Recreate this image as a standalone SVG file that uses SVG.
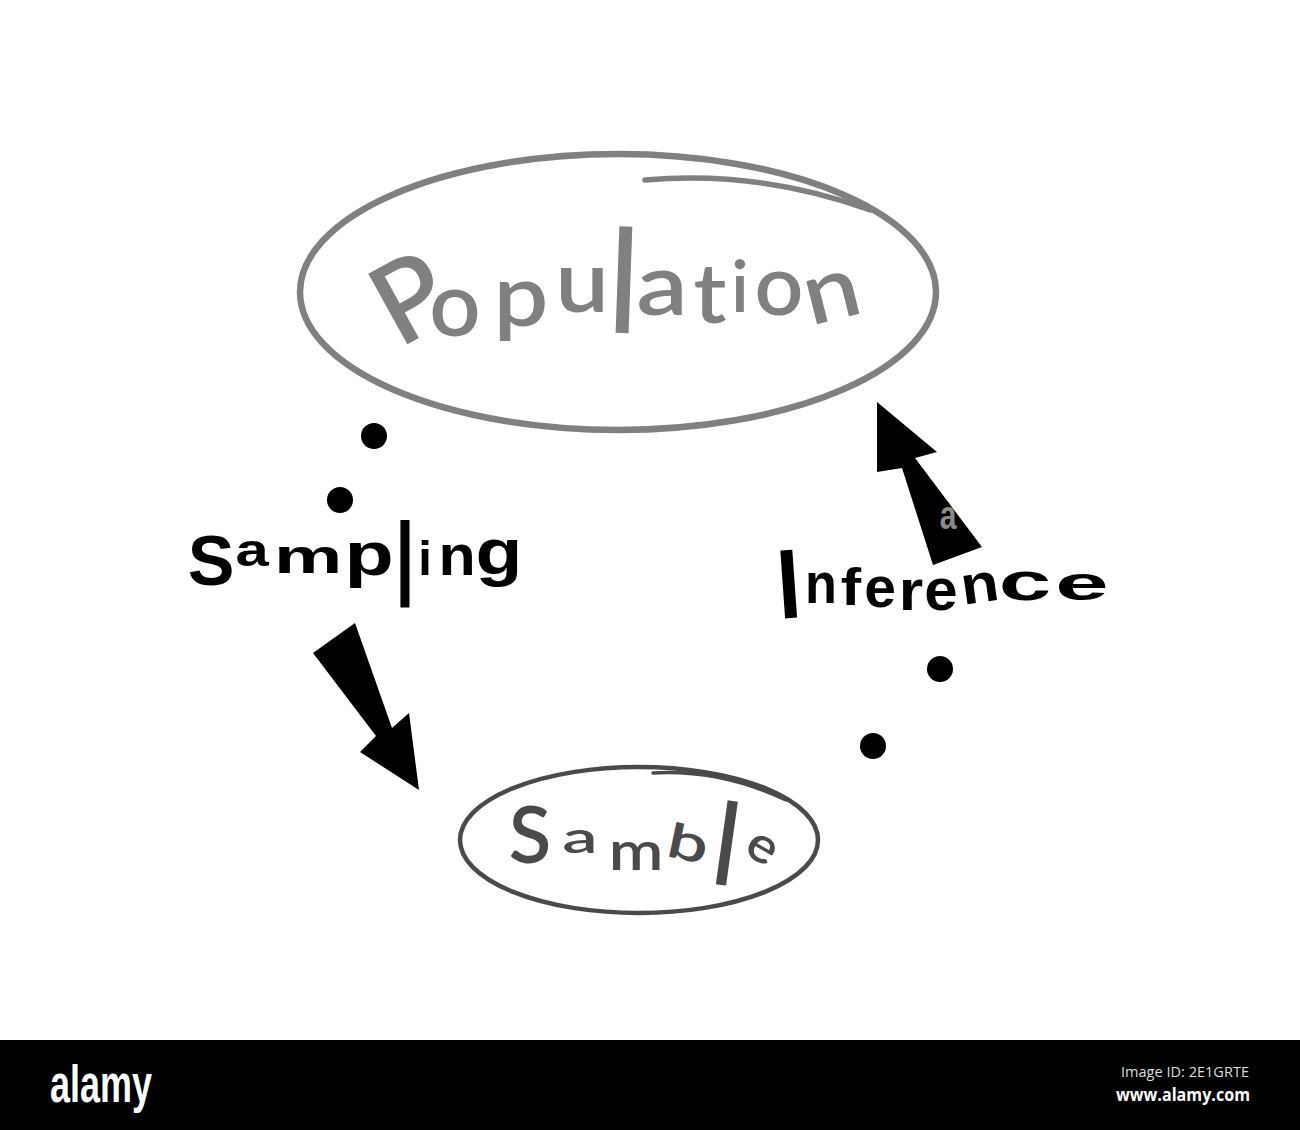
<svg xmlns="http://www.w3.org/2000/svg" width="1300" height="1130" viewBox="0 0 1300 1130">
<style>
.pop{font-family:Lato,"Open Sans",sans-serif;font-weight:600;fill:#808080;text-anchor:middle}
.smp{font-family:Lato,"Open Sans",sans-serif;font-weight:600;fill:#4a4a4a;text-anchor:middle}
.lbl{font-family:"Liberation Sans",Arial,sans-serif;font-weight:bold;fill:#000;text-anchor:middle}
.bar{font-weight:normal}
.dot{fill:#000}
.arrow{fill:#000}
</style>
<rect width="1300" height="1130" fill="#fff"/>

<g id="population">
  <ellipse cx="618" cy="292" rx="318" ry="138" fill="none" stroke="#808080" stroke-width="6.5"/>
  <path d="M645,180 Q760,170 870,210" fill="none" stroke="#808080" stroke-width="5.5" stroke-linecap="round"/>
  <text class="pop" style="text-anchor:start" font-size="112" transform="translate(399,349) rotate(-29)">P</text>
  <text class="pop" font-size="90" transform="translate(455,336)">o</text>
  <text class="pop" font-size="87" transform="translate(521,326) scale(1.12,1)">p</text>
  <text class="pop" font-size="87" transform="translate(582,312) scale(1.1,1)">u</text>
  <text class="pop bar" font-size="145" transform="translate(622,333) rotate(2)">l</text>
  <text class="pop" font-size="87" transform="translate(662,315) scale(1.18,1)">a</text>
  <text class="pop" font-size="82" transform="translate(710,323) scale(1.1,1)">t</text>
  <text class="pop" font-size="72" transform="translate(740,312)">i</text>
  <text class="pop" font-size="84" transform="translate(779,315) scale(1.02,1)">o</text>
  <text class="pop" font-size="87" transform="translate(838,319) rotate(-14) scale(1.15,1)">n</text>
</g>

<g id="sample">
  <ellipse cx="639" cy="840" rx="179" ry="73" fill="none" stroke="#4a4a4a" stroke-width="4.5"/>
  <path d="M653,773 Q720,769 786,800" fill="none" stroke="#4a4a4a" stroke-width="3.5" stroke-linecap="round"/>
  <text class="smp" font-size="78" transform="translate(530,863)">S</text>
  <text class="smp" font-size="44" transform="translate(580,853) scale(1.6,1)">a</text>
  <text class="smp" font-size="54" transform="translate(636,870) scale(1.22,1)">m</text>
  <text class="smp" font-size="52" transform="translate(690,834) rotate(12) scale(1.4,-1)">p</text>
  <text class="smp bar" font-size="115" transform="translate(721,885) rotate(8)">l</text>
  <text class="smp" font-size="50" transform="translate(755,860) rotate(30) scale(1.1,1)">e</text>
</g>

<g id="sampling-label">
  <text class="lbl" font-size="70" transform="translate(211,585)">S</text>
  <text class="lbl" font-size="46" transform="translate(252,566) scale(1.3,1)">a</text>
  <text class="lbl" font-size="48" transform="translate(308,573) scale(1.6,1)">m</text>
  <text class="lbl" font-size="62" transform="translate(369,575) scale(1.3,1)">p</text>
  <text class="lbl" font-size="121" transform="translate(405,608) scale(0.55,1)">l</text>
  <text class="lbl" font-size="49" transform="translate(425,575)">i</text>
  <text class="lbl" font-size="58" transform="translate(457,575) scale(1.05,1)">n</text>
  <text class="lbl" font-size="64" transform="translate(499,574) scale(1.2,1)">g</text>
</g>

<g id="inference-label">
  <text class="lbl bar" font-size="99" transform="translate(791,618) rotate(-4) scale(1.3,1)">I</text>
  <text class="lbl" font-size="58" transform="translate(821,603) scale(0.9,1)">n</text>
  <text class="lbl" font-size="51" transform="translate(851,605) scale(1.2,1)">f</text>
  <text class="lbl" font-size="57" transform="translate(880,607)">e</text>
  <text class="lbl" font-size="57" transform="translate(911,610) scale(1.1,1)">r</text>
  <text class="lbl" font-size="60" transform="translate(941,610)">e</text>
  <text class="lbl" font-size="54" transform="translate(982,602) rotate(-8) scale(1.15,1)">n</text>
  <text class="lbl" font-size="54" transform="translate(1025,600) scale(1.75,1)">c</text>
  <text class="lbl" font-size="48" transform="translate(1082,600) scale(2,1)">e</text>
</g>

<g id="connectors">
  <circle class="dot" cx="374" cy="436" r="13"/>
  <circle class="dot" cx="340" cy="500" r="13"/>
  <polygon class="arrow" points="313,653 355,623 392,728 409,713 419,790 360,752 376,736"/>
  <polygon class="arrow" points="877,402 937,452 915,458 982,547 933,565 902,468 877,472"/>
  <circle class="dot" cx="940" cy="669" r="13"/>
  <circle class="dot" cx="873" cy="746" r="13"/>
</g>

<text font-family="Liberation Sans,Arial,sans-serif" font-weight="bold" font-size="40" fill="#8a8a8a" text-anchor="middle" transform="translate(948,529) scale(0.75,1)">a</text>

<g id="footer">
  <rect x="0" y="1040" width="1300" height="90" fill="#000"/>
  <text x="50" y="1102" font-family="Liberation Sans,Arial,sans-serif" font-weight="bold" font-size="51" fill="#fff" textLength="102" lengthAdjust="spacingAndGlyphs">alamy</text>
  <text x="1121" y="1077" font-family="Open Sans,Noto Sans,sans-serif" font-size="15" fill="#ddd" textLength="128" lengthAdjust="spacingAndGlyphs">Image ID: 2E1GRTE</text>
  <text x="1116" y="1101" font-family="Open Sans,Noto Sans,sans-serif" font-weight="bold" font-size="17" fill="#fff" textLength="134" lengthAdjust="spacingAndGlyphs">www.alamy.com</text>
</g>
</svg>
